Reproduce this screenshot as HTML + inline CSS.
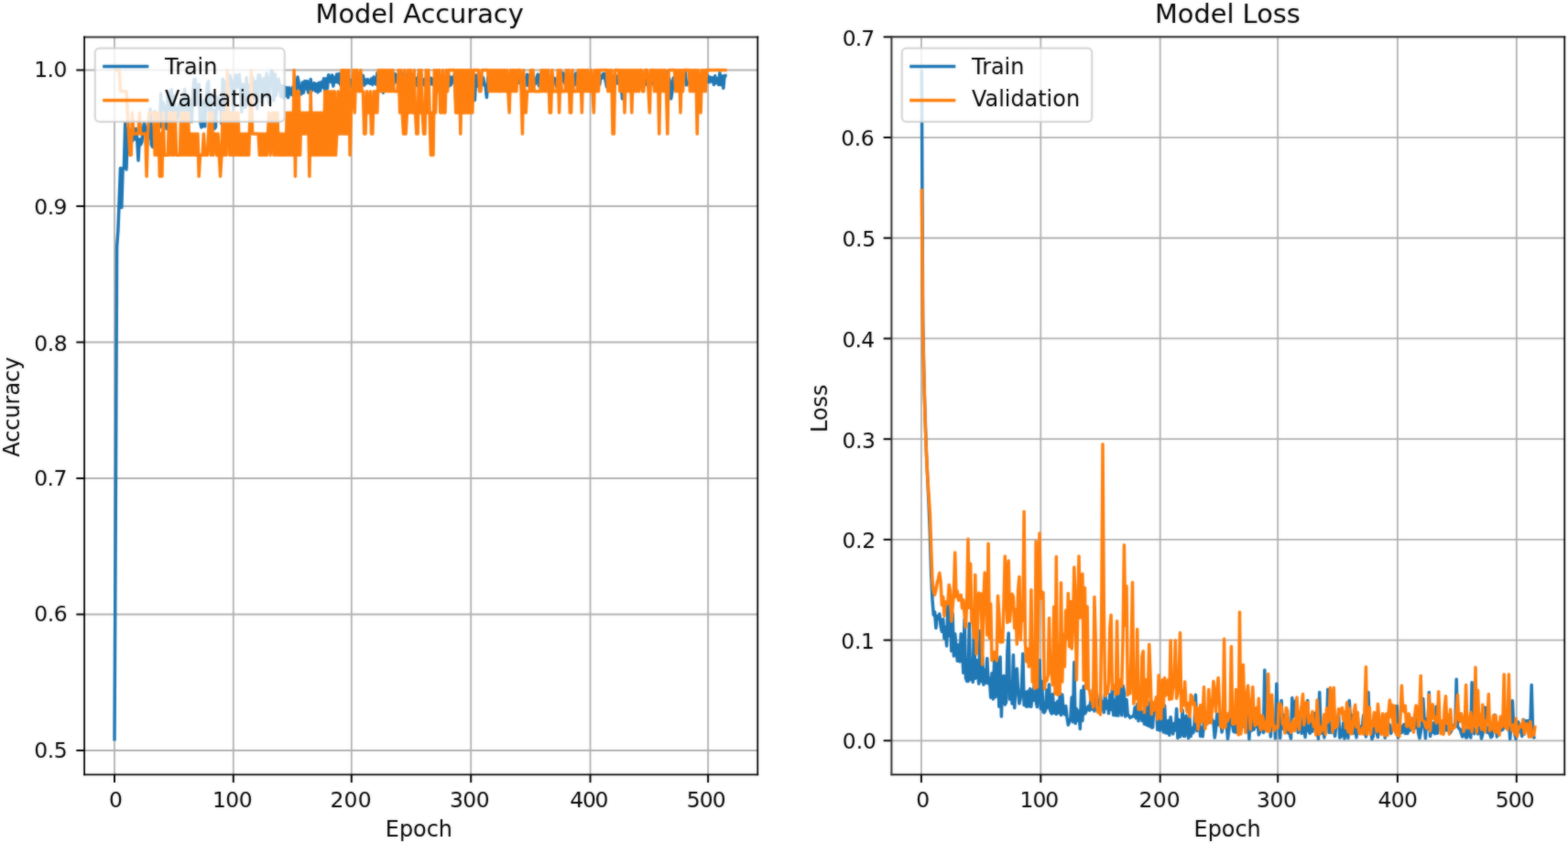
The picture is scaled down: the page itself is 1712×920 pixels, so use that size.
<!DOCTYPE html>
<html lang="en">
<head>
<meta charset="utf-8">
<title>Model Accuracy and Model Loss</title>
<style>
html,body{margin:0;padding:0;background:#ffffff;}
body{width:1712px;height:920px;overflow:hidden;font-family:"DejaVu Sans", "Liberation Sans", sans-serif;}
svg{display:block;}
svg text{font-family:"DejaVu Sans", "Liberation Sans", sans-serif;}
</style>
</head>
<body>
<svg width="1712" height="920" viewBox="0 0 1712 920">
<defs>
<filter id="soft" x="0" y="0" width="100%" height="100%" color-interpolation-filters="sRGB">
<feGaussianBlur in="SourceGraphic" stdDeviation="0.9" result="b"/>
<feComposite in="SourceGraphic" in2="b" operator="arithmetic" k1="0" k2="0.5" k3="0.5" k4="0"/>
</filter>
</defs>
<g filter="url(#soft)">
<rect x="0" y="0" width="1712" height="920" fill="#ffffff"/>
<g id="ax1">
<rect x="92.1" y="40.4" width="735.15" height="804.90" fill="#ffffff"/>
<g stroke="#b0b0b0" stroke-width="1.8" fill="none">
<line x1="125.00" y1="40.4" x2="125.00" y2="845.3"/>
<line x1="254.80" y1="40.4" x2="254.80" y2="845.3"/>
<line x1="383.80" y1="40.4" x2="383.80" y2="845.3"/>
<line x1="514.20" y1="40.4" x2="514.20" y2="845.3"/>
<line x1="644.50" y1="40.4" x2="644.50" y2="845.3"/>
<line x1="773.10" y1="40.4" x2="773.10" y2="845.3"/>
<line x1="92.1" y1="819.00" x2="827.25" y2="819.00"/>
<line x1="92.1" y1="670.50" x2="827.25" y2="670.50"/>
<line x1="92.1" y1="522.00" x2="827.25" y2="522.00"/>
<line x1="92.1" y1="373.50" x2="827.25" y2="373.50"/>
<line x1="92.1" y1="225.00" x2="827.25" y2="225.00"/>
<line x1="92.1" y1="76.50" x2="827.25" y2="76.50"/>
</g>
<clipPath id="clip1"><rect x="92.1" y="40.4" width="735.15" height="804.90"/></clipPath>
<g clip-path="url(#clip1)">
<polyline points="125.0,808.6 126.3,551.7 127.6,269.6 128.9,251.7 130.2,217.6 131.5,183.4 132.8,226.5 134.1,183.4 135.4,183.4 136.7,134.4 138.0,184.9 139.3,140.4 140.6,146.3 141.9,157.6 143.2,142.5 144.5,153.7 145.8,151.9 147.1,151.9 148.4,140.4 149.7,151.9 151.0,175.1 152.3,151.9 153.6,157.7 154.9,154.9 156.2,141.1 157.5,134.4 158.8,140.4 160.1,146.3 161.4,152.2 162.7,146.3 164.0,119.1 165.3,157.7 166.5,160.4 167.8,146.3 169.1,121.6 170.4,139.9 171.7,125.1 173.0,127.8 174.3,138.9 175.6,102.2 176.9,137.3 178.2,111.7 179.5,117.6 180.8,135.8 182.1,140.4 183.4,100.1 184.7,132.7 186.0,105.2 187.3,97.6 188.6,138.2 189.9,104.7 191.2,134.9 192.5,118.0 193.8,129.3 195.1,113.9 196.4,127.1 197.7,107.7 199.0,126.3 200.3,126.4 201.6,97.3 202.9,125.5 204.2,138.3 205.5,111.2 206.8,131.9 208.1,109.6 209.4,132.7 210.7,100.0 212.0,86.3 213.3,86.3 214.6,114.2 215.9,92.9 217.2,92.2 218.5,131.9 219.8,138.9 221.1,137.8 222.4,110.2 223.7,137.9 225.0,110.3 226.3,91.9 227.6,88.7 228.9,136.1 230.2,104.1 231.5,136.5 232.8,119.9 234.1,140.4 235.4,138.9 236.7,105.8 238.0,108.5 239.3,119.1 240.6,108.1 241.9,134.9 243.2,86.3 244.5,91.5 245.8,126.8 247.0,88.9 248.3,118.5 249.6,103.2 250.9,82.6 252.2,87.1 253.5,88.6 254.8,120.0 256.1,106.4 257.4,81.7 258.7,89.0 260.0,95.0 261.3,81.2 262.6,96.6 263.9,122.3 265.2,91.9 266.5,111.0 267.8,117.3 269.1,84.8 270.4,113.8 271.7,111.6 273.0,92.0 274.3,110.8 275.6,83.9 276.9,93.3 278.2,107.5 279.5,88.4 280.8,118.8 282.1,81.7 283.4,82.1 284.7,85.9 286.0,111.5 287.3,100.2 288.6,85.4 289.9,105.0 291.2,80.0 292.5,94.7 293.8,113.2 295.1,85.8 296.4,77.1 297.7,79.4 299.0,109.8 300.3,81.2 301.6,103.9 302.9,89.8 304.2,86.3 305.5,96.9 306.8,105.3 308.1,93.3 309.4,107.0 310.7,94.4 312.0,104.5 313.3,95.7 314.6,106.6 315.9,95.7 317.2,102.5 318.5,103.4 319.8,95.0 321.1,100.9 322.4,91.5 323.7,98.1 325.0,84.0 326.3,91.6 327.6,97.2 328.8,102.7 330.1,90.1 331.4,101.3 332.7,88.4 334.0,97.0 335.3,88.6 336.6,100.9 337.9,96.3 339.2,86.4 340.5,98.7 341.8,96.8 343.1,90.6 344.4,99.2 345.7,91.5 347.0,100.8 348.3,90.3 349.6,98.9 350.9,89.6 352.2,95.3 353.5,85.7 354.8,98.9 356.1,85.7 357.4,96.6 358.7,81.7 360.0,85.5 361.3,89.5 362.6,81.9 363.9,94.0 365.2,84.2 366.5,89.4 367.8,81.1 369.1,89.9 370.4,80.6 371.7,92.6 373.0,80.1 374.3,93.8 375.6,85.8 376.9,93.8 378.2,86.2 379.5,93.2 380.8,85.5 382.1,94.0 383.4,87.9 384.7,95.0 386.0,83.3 387.3,92.5 388.6,94.5 389.9,92.7 391.2,80.9 392.5,92.3 393.8,79.6 395.1,90.5 396.4,82.5 397.7,93.1 399.0,86.9 400.3,90.9 401.6,86.6 402.9,90.4 404.2,91.3 405.5,85.9 406.8,92.4 408.1,84.1 409.3,89.7 410.6,91.9 411.9,79.7 413.2,93.0 414.5,84.7 415.8,92.2 417.1,83.6 418.4,101.2 419.7,84.5 421.0,94.7 422.3,85.9 423.6,92.0 424.9,82.2 426.2,90.1 427.5,85.1 428.8,86.6 430.1,91.3 431.4,80.7 432.7,82.5 434.0,90.4 435.3,83.3 436.6,90.3 437.9,90.3 439.2,80.2 440.5,91.0 441.8,87.5 443.1,92.8 444.4,80.7 445.7,91.3 447.0,82.0 448.3,94.7 449.6,81.4 450.9,91.8 452.2,87.2 453.5,93.3 454.8,85.5 456.1,93.6 457.4,79.4 458.7,92.6 460.0,81.9 461.3,91.3 462.6,87.0 463.9,93.3 465.2,85.1 466.5,94.5 467.8,85.4 469.1,90.9 470.4,85.2 471.7,92.1 473.0,86.6 474.3,85.9 475.6,79.7 476.9,92.1 478.2,89.3 479.5,85.3 480.8,89.4 482.1,82.7 483.4,91.7 484.7,93.8 486.0,91.8 487.3,90.7 488.6,80.0 489.9,94.3 491.1,83.4 492.4,92.8 493.7,84.6 495.0,89.9 496.3,81.2 497.6,109.2 498.9,81.5 500.2,85.1 501.5,92.3 502.8,91.2 504.1,83.9 505.4,94.1 506.7,80.4 508.0,89.4 509.3,85.2 510.6,93.4 511.9,79.4 513.2,80.6 514.5,89.4 515.8,91.4 517.1,87.0 518.4,109.2 519.7,82.0 521.0,94.1 522.3,93.6 523.6,84.5 524.9,90.3 526.2,92.9 527.5,84.8 528.8,92.2 530.1,94.3 531.4,106.2 532.7,85.5 534.0,79.0 535.3,93.5 536.6,86.6 537.9,93.7 539.2,85.2 540.5,89.5 541.8,83.9 543.1,91.4 544.4,84.5 545.7,92.7 547.0,93.5 548.3,82.0 549.6,85.5 550.9,92.8 552.2,83.5 553.5,80.1 554.8,87.1 556.1,90.3 557.4,91.6 558.7,87.2 560.0,89.2 561.3,89.5 562.6,92.8 563.9,85.9 565.2,90.4 566.5,90.2 567.8,80.8 569.1,91.1 570.4,80.6 571.6,89.1 572.9,84.6 574.2,92.7 575.5,81.3 576.8,93.6 578.1,82.3 579.4,92.8 580.7,87.0 582.0,91.5 583.3,90.5 584.6,91.4 585.9,85.0 587.2,81.2 588.5,93.8 589.8,81.4 591.1,92.6 592.4,79.3 593.7,93.7 595.0,83.6 596.3,92.8 597.6,80.9 598.9,92.8 600.2,92.2 601.5,92.7 602.8,80.7 604.1,88.8 605.4,85.5 606.7,91.6 608.0,94.8 609.3,91.8 610.6,78.9 611.9,93.5 613.2,83.7 614.5,79.6 615.8,88.5 617.1,92.0 618.4,79.2 619.7,93.6 621.0,83.8 622.3,92.0 623.6,86.9 624.9,91.9 626.2,93.1 627.5,92.6 628.8,80.1 630.1,83.3 631.4,91.2 632.7,79.2 634.0,91.8 635.3,93.5 636.6,80.1 637.9,93.5 639.2,86.3 640.5,84.7 641.8,88.9 643.1,84.6 644.4,81.7 645.7,89.9 647.0,84.5 648.3,89.6 649.6,90.3 650.9,93.5 652.2,82.9 653.4,78.9 654.7,92.3 656.0,82.7 657.3,85.3 658.6,80.6 659.9,80.4 661.2,88.4 662.5,94.8 663.8,93.1 665.1,80.5 666.4,93.2 667.7,82.2 669.0,88.3 670.3,88.3 671.6,86.0 672.9,90.9 674.2,83.0 675.5,91.3 676.8,81.1 678.1,89.0 679.4,107.7 680.7,84.2 682.0,91.5 683.3,85.0 684.6,92.1 685.9,79.3 687.2,91.7 688.5,78.4 689.8,92.2 691.1,90.0 692.4,92.8 693.7,79.8 695.0,79.1 696.3,91.8 697.6,85.0 698.9,81.8 700.2,83.5 701.5,82.9 702.8,89.2 704.1,92.8 705.4,81.4 706.7,91.4 708.0,84.9 709.3,90.1 710.6,84.9 711.9,91.6 713.2,85.0 714.5,92.2 715.8,82.0 717.1,92.7 718.4,82.0 719.7,92.8 721.0,80.8 722.3,91.7 723.6,78.6 724.9,90.2 726.2,83.0 727.5,78.3 728.8,92.2 730.1,84.8 731.4,88.5 732.7,107.7 733.9,100.3 735.2,85.1 736.5,90.3 737.8,78.9 739.1,89.9 740.4,82.2 741.7,91.6 743.0,78.8 744.3,90.5 745.6,88.0 746.9,85.3 748.2,78.4 749.5,92.8 750.8,91.0 752.1,89.8 753.4,92.2 754.7,84.5 756.0,88.6 757.3,92.1 758.6,83.0 759.9,91.0 761.2,84.3 762.5,88.3 763.8,81.7 765.1,92.8 766.4,92.4 767.7,81.8 769.0,91.4 770.3,81.5 771.6,89.5 772.9,82.7 774.2,89.7 775.5,84.3 776.8,88.9 778.1,84.8 779.4,92.4 780.7,82.7 782.0,90.6 783.3,85.9 784.6,92.5 785.9,79.8 787.2,92.6 788.5,83.1 789.8,96.3 791.1,82.4 792.4,82.4 793.7,82.4" fill="none" stroke="#1f77b4" stroke-width="3.5" stroke-linejoin="round" stroke-linecap="butt"/>
<polyline points="125.0,76.5 126.3,76.5 127.6,76.5 128.9,76.5 130.2,76.5 131.5,99.7 132.8,99.7 134.1,99.7 135.4,99.7 136.7,99.7 138.0,99.7 139.3,122.9 140.6,146.1 141.9,169.3 143.2,169.3 144.5,122.9 145.8,146.1 147.1,146.1 148.4,146.1 149.7,146.1 151.0,146.1 152.3,122.9 153.6,146.1 154.9,146.1 156.2,146.1 157.5,146.1 158.8,146.1 160.1,192.5 161.4,146.1 162.7,122.9 164.0,122.9 165.3,122.9 166.5,122.9 167.8,122.9 169.1,169.3 170.4,122.9 171.7,169.3 173.0,122.9 174.3,192.5 175.6,146.1 176.9,192.5 178.2,122.9 179.5,169.3 180.8,169.3 182.1,169.3 183.4,169.3 184.7,122.9 186.0,169.3 187.3,122.9 188.6,169.3 189.9,169.3 191.2,122.9 192.5,169.3 193.8,169.3 195.1,169.3 196.4,169.3 197.7,122.9 199.0,169.3 200.3,122.9 201.6,169.3 202.9,122.9 204.2,169.3 205.5,122.9 206.8,169.3 208.1,146.1 209.4,169.3 210.7,146.1 212.0,169.3 213.3,146.1 214.6,169.3 215.9,146.1 217.2,192.5 218.5,169.3 219.8,169.3 221.1,169.3 222.4,146.1 223.7,169.3 225.0,169.3 226.3,169.3 227.6,146.1 228.9,122.9 230.2,169.3 231.5,122.9 232.8,169.3 234.1,146.1 235.4,146.1 236.7,169.3 238.0,146.1 239.3,169.3 240.6,192.5 241.9,169.3 243.2,122.9 244.5,169.3 245.8,122.9 247.0,169.3 248.3,76.5 249.6,122.9 250.9,169.3 252.2,122.9 253.5,169.3 254.8,122.9 256.1,169.3 257.4,122.9 258.7,169.3 260.0,122.9 261.3,169.3 262.6,146.1 263.9,169.3 265.2,146.1 266.5,169.3 267.8,146.1 269.1,169.3 270.4,146.1 271.7,169.3 273.0,122.9 274.3,76.5 275.6,146.1 276.9,146.1 278.2,146.1 279.5,146.1 280.8,146.1 282.1,146.1 283.4,169.3 284.7,146.1 286.0,169.3 287.3,146.1 288.6,169.3 289.9,146.1 291.2,169.3 292.5,146.1 293.8,122.9 295.1,169.3 296.4,146.1 297.7,122.9 299.0,169.3 300.3,122.9 301.6,169.3 302.9,122.9 304.2,169.3 305.5,146.1 306.8,169.3 308.1,146.1 309.4,169.3 310.7,146.1 312.0,169.3 313.3,122.9 314.6,169.3 315.9,122.9 317.2,169.3 318.5,122.9 319.8,169.3 321.1,76.5 322.4,192.5 323.7,99.7 325.0,169.3 326.3,99.7 327.6,169.3 328.8,122.9 330.1,146.1 331.4,122.9 332.7,146.1 334.0,122.9 335.3,146.1 336.6,122.9 337.9,192.5 339.2,99.7 340.5,169.3 341.8,122.9 343.1,169.3 344.4,122.9 345.7,169.3 347.0,122.9 348.3,169.3 349.6,122.9 350.9,169.3 352.2,122.9 353.5,169.3 354.8,99.7 356.1,169.3 357.4,99.7 358.7,169.3 360.0,99.7 361.3,169.3 362.6,99.7 363.9,169.3 365.2,99.7 366.5,169.3 367.8,146.1 369.1,99.7 370.4,146.1 371.7,146.1 373.0,76.5 374.3,146.1 375.6,76.5 376.9,146.1 378.2,76.5 379.5,146.1 380.8,76.5 382.1,169.3 383.4,122.9 384.7,99.7 386.0,76.5 387.3,122.9 388.6,76.5 389.9,76.5 391.2,99.7 392.5,99.7 393.8,76.5 395.1,99.7 396.4,99.7 397.7,146.1 399.0,146.1 400.3,99.7 401.6,122.9 402.9,122.9 404.2,99.7 405.5,146.1 406.8,146.1 408.1,99.7 409.3,122.9 410.6,99.7 411.9,122.9 413.2,76.5 414.5,99.7 415.8,76.5 417.1,99.7 418.4,76.5 419.7,99.7 421.0,76.5 422.3,99.7 423.6,76.5 424.9,99.7 426.2,76.5 427.5,99.7 428.8,76.5 430.1,99.7 431.4,99.7 432.7,99.7 434.0,99.7 435.3,76.5 436.6,122.9 437.9,76.5 439.2,122.9 440.5,146.1 441.8,76.5 443.1,146.1 444.4,122.9 445.7,76.5 447.0,122.9 448.3,76.5 449.6,122.9 450.9,122.9 452.2,76.5 453.5,122.9 454.8,146.1 456.1,146.1 457.4,76.5 458.7,122.9 460.0,76.5 461.3,122.9 462.6,146.1 463.9,146.1 465.2,76.5 466.5,122.9 467.8,76.5 469.1,122.9 470.4,169.3 471.7,122.9 473.0,169.3 474.3,76.5 475.6,122.9 476.9,76.5 478.2,99.7 479.5,76.5 480.8,122.9 482.1,122.9 483.4,76.5 484.7,122.9 486.0,122.9 487.3,76.5 488.6,99.7 489.9,76.5 491.1,76.5 492.4,76.5 493.7,76.5 495.0,76.5 496.3,76.5 497.6,122.9 498.9,76.5 500.2,122.9 501.5,76.5 502.8,146.1 504.1,76.5 505.4,122.9 506.7,76.5 508.0,122.9 509.3,76.5 510.6,122.9 511.9,76.5 513.2,122.9 514.5,76.5 515.8,122.9 517.1,76.5 518.4,76.5 519.7,76.5 521.0,76.5 522.3,76.5 523.6,99.7 524.9,99.7 526.2,76.5 527.5,76.5 528.8,76.5 530.1,76.5 531.4,76.5 532.7,76.5 534.0,99.7 535.3,76.5 536.6,99.7 537.9,76.5 539.2,99.7 540.5,76.5 541.8,99.7 543.1,76.5 544.4,99.7 545.7,76.5 547.0,99.7 548.3,76.5 549.6,99.7 550.9,76.5 552.2,99.7 553.5,76.5 554.8,99.7 556.1,122.9 557.4,76.5 558.7,99.7 560.0,76.5 561.3,99.7 562.6,76.5 563.9,99.7 565.2,76.5 566.5,76.5 567.8,76.5 569.1,99.7 570.4,146.1 571.6,76.5 572.9,99.7 574.2,122.9 575.5,99.7 576.8,99.7 578.1,99.7 579.4,76.5 580.7,99.7 582.0,76.5 583.3,99.7 584.6,99.7 585.9,99.7 587.2,99.7 588.5,99.7 589.8,99.7 591.1,76.5 592.4,99.7 593.7,76.5 595.0,99.7 596.3,76.5 597.6,99.7 598.9,76.5 600.2,122.9 601.5,122.9 602.8,76.5 604.1,99.7 605.4,99.7 606.7,99.7 608.0,99.7 609.3,76.5 610.6,122.9 611.9,76.5 613.2,99.7 614.5,99.7 615.8,99.7 617.1,99.7 618.4,76.5 619.7,99.7 621.0,76.5 622.3,122.9 623.6,122.9 624.9,76.5 626.2,99.7 627.5,99.7 628.8,99.7 630.1,99.7 631.4,76.5 632.7,99.7 634.0,76.5 635.3,122.9 636.6,76.5 637.9,99.7 639.2,76.5 640.5,99.7 641.8,76.5 643.1,99.7 644.4,99.7 645.7,76.5 647.0,99.7 648.3,122.9 649.6,76.5 650.9,99.7 652.2,76.5 653.4,99.7 654.7,76.5 656.0,76.5 657.3,76.5 658.6,76.5 659.9,76.5 661.2,76.5 662.5,76.5 663.8,99.7 665.1,76.5 666.4,99.7 667.7,76.5 669.0,146.1 670.3,146.1 671.6,76.5 672.9,76.5 674.2,76.5 675.5,76.5 676.8,99.7 678.1,76.5 679.4,99.7 680.7,76.5 682.0,122.9 683.3,76.5 684.6,99.7 685.9,76.5 687.2,99.7 688.5,76.5 689.8,122.9 691.1,76.5 692.4,99.7 693.7,76.5 695.0,99.7 696.3,76.5 697.6,99.7 698.9,76.5 700.2,76.5 701.5,99.7 702.8,99.7 704.1,76.5 705.4,76.5 706.7,76.5 708.0,99.7 709.3,122.9 710.6,76.5 711.9,76.5 713.2,76.5 714.5,99.7 715.8,76.5 717.1,99.7 718.4,76.5 719.7,146.1 721.0,76.5 722.3,99.7 723.6,76.5 724.9,99.7 726.2,76.5 727.5,99.7 728.8,146.1 730.1,76.5 731.4,76.5 732.7,76.5 733.9,76.5 735.2,76.5 736.5,76.5 737.8,99.7 739.1,76.5 740.4,99.7 741.7,76.5 743.0,122.9 744.3,76.5 745.6,99.7 746.9,76.5 748.2,76.5 749.5,76.5 750.8,76.5 752.1,76.5 753.4,99.7 754.7,76.5 756.0,99.7 757.3,76.5 758.6,99.7 759.9,76.5 761.2,146.1 762.5,76.5 763.8,99.7 765.1,122.9 766.4,76.5 767.7,99.7 769.0,76.5 770.3,99.7 771.6,76.5 772.9,76.5 774.2,76.5 775.5,76.5 776.8,76.5 778.1,76.5 779.4,76.5 780.7,76.5 782.0,76.5 783.3,76.5 784.6,76.5 785.9,76.5 787.2,76.5 788.5,76.5 789.8,76.5 791.1,76.5 792.4,76.5 793.7,76.5" fill="none" stroke="#ff7f0e" stroke-width="3.5" stroke-linejoin="round" stroke-linecap="butt"/>
</g>
<g stroke="#000000" stroke-width="2.0">
<line x1="125.00" y1="845.3" x2="125.00" y2="854.10"/>
<line x1="254.80" y1="845.3" x2="254.80" y2="854.10"/>
<line x1="383.80" y1="845.3" x2="383.80" y2="854.10"/>
<line x1="514.20" y1="845.3" x2="514.20" y2="854.10"/>
<line x1="644.50" y1="845.3" x2="644.50" y2="854.10"/>
<line x1="773.10" y1="845.3" x2="773.10" y2="854.10"/>
<line x1="83.30" y1="819.00" x2="92.1" y2="819.00"/>
<line x1="83.30" y1="670.50" x2="92.1" y2="670.50"/>
<line x1="83.30" y1="522.00" x2="92.1" y2="522.00"/>
<line x1="83.30" y1="373.50" x2="92.1" y2="373.50"/>
<line x1="83.30" y1="225.00" x2="92.1" y2="225.00"/>
<line x1="83.30" y1="76.50" x2="92.1" y2="76.50"/>
</g>
<line x1="92.10" y1="40.40" x2="827.25" y2="40.40" stroke="#303030" stroke-width="2.0" stroke-linecap="square"/>
<line x1="827.25" y1="40.40" x2="827.25" y2="845.30" stroke="#000000" stroke-width="1.8" stroke-linecap="square"/>
<line x1="92.10" y1="845.30" x2="827.25" y2="845.30" stroke="#000000" stroke-width="1.8" stroke-linecap="square"/>
<line x1="92.10" y1="40.40" x2="92.10" y2="845.30" stroke="#000000" stroke-width="1.8" stroke-linecap="square"/>
<g fill="#000000">
<text x="118.88" y="880.50" font-size="23.4">0</text>
<text x="232.06" y="880.50" font-size="23.4" letter-spacing="-0.59">100</text>
<text x="360.46" y="880.50" font-size="23.4" letter-spacing="0.26">200</text>
<text x="490.96" y="880.50" font-size="23.4" letter-spacing="-0.54">300</text>
<text x="622.36" y="880.50" font-size="23.4" letter-spacing="-1.29">400</text>
<text x="749.86" y="880.50" font-size="23.4" letter-spacing="-0.89">500</text>
<text x="37.25" y="826.55" font-size="23.4" letter-spacing="-0.42">0.5</text>
<text x="37.25" y="678.15" font-size="23.4" letter-spacing="-0.47">0.6</text>
<text x="37.15" y="530.10" font-size="23.4" letter-spacing="-0.44">0.7</text>
<text x="37.15" y="383.00" font-size="23.4" letter-spacing="-0.35">0.8</text>
<text x="37.25" y="234.10" font-size="23.4" letter-spacing="-0.50">0.9</text>
<text x="37.26" y="84.35" font-size="23.4" letter-spacing="-0.51">1.0</text>
<text x="420.80" y="913.20" font-size="23.9">Epoch</text>
<text transform="translate(20.7,444.2) rotate(-90)" text-anchor="middle" font-size="23.9">Accuracy</text>
<text x="344.61" y="24.70" font-size="28.8">Model Accuracy</text>
</g>
<rect x="103.75" y="52.6" width="207.0" height="80.30" rx="4.8" ry="4.8" fill="#ffffff" fill-opacity="0.8" stroke="#cccccc" stroke-opacity="0.8" stroke-width="2.2"/>
<line x1="112.20" y1="72.50" x2="162.30" y2="72.50" stroke="#1f77b4" stroke-width="3.5"/>
<line x1="112.20" y1="109.40" x2="162.30" y2="109.40" stroke="#ff7f0e" stroke-width="3.5"/>
<g fill="#000000">
<text x="180.05" y="81.10" font-size="23.9">Train</text>
<text x="180.05" y="116.20" font-size="23.9">Validation</text>
</g>
</g>
<g id="ax2">
<rect x="973.4" y="40.3" width="734.85" height="805.00" fill="#ffffff"/>
<g stroke="#b0b0b0" stroke-width="1.8" fill="none">
<line x1="1005.90" y1="40.3" x2="1005.90" y2="845.3"/>
<line x1="1136.30" y1="40.3" x2="1136.30" y2="845.3"/>
<line x1="1266.70" y1="40.3" x2="1266.70" y2="845.3"/>
<line x1="1395.20" y1="40.3" x2="1395.20" y2="845.3"/>
<line x1="1525.90" y1="40.3" x2="1525.90" y2="845.3"/>
<line x1="1655.85" y1="40.3" x2="1655.85" y2="845.3"/>
<line x1="973.4" y1="808.30" x2="1708.25" y2="808.30"/>
<line x1="973.4" y1="698.59" x2="1708.25" y2="698.59"/>
<line x1="973.4" y1="588.88" x2="1708.25" y2="588.88"/>
<line x1="973.4" y1="479.17" x2="1708.25" y2="479.17"/>
<line x1="973.4" y1="369.46" x2="1708.25" y2="369.46"/>
<line x1="973.4" y1="259.75" x2="1708.25" y2="259.75"/>
<line x1="973.4" y1="150.04" x2="1708.25" y2="150.04"/>
<line x1="973.4" y1="40.33" x2="1708.25" y2="40.33"/>
</g>
<clipPath id="clip2"><rect x="973.4" y="40.3" width="734.85" height="805.00"/></clipPath>
<g clip-path="url(#clip2)">
<polyline points="1006.3,76.5 1007.6,347.5 1008.9,413.3 1010.2,457.2 1011.5,495.6 1012.8,523.1 1014.1,550.5 1015.4,583.4 1016.7,627.3 1018.0,654.7 1019.3,671.2 1020.6,667.9 1021.9,685.4 1023.2,672.3 1024.5,674.6 1025.8,670.0 1027.1,683.2 1028.4,689.3 1029.7,675.7 1031.0,696.8 1032.3,684.4 1033.6,705.0 1034.9,660.1 1036.2,694.1 1037.5,667.4 1038.8,710.5 1040.1,669.3 1041.4,716.0 1042.7,691.7 1044.0,705.3 1045.3,721.3 1046.6,703.7 1047.9,721.9 1049.2,691.8 1050.5,707.7 1051.8,734.3 1053.1,675.7 1054.4,739.7 1055.7,743.5 1057.0,743.6 1058.3,680.4 1059.6,741.7 1060.9,720.5 1062.2,744.4 1063.5,682.9 1064.8,740.5 1066.1,720.4 1067.4,730.5 1068.7,746.2 1070.0,688.6 1071.3,743.7 1072.6,716.2 1073.9,747.3 1075.2,731.2 1076.5,745.2 1077.8,718.4 1079.1,746.0 1080.4,740.2 1081.7,761.2 1083.0,734.8 1084.3,763.0 1085.6,719.9 1086.9,760.8 1088.2,716.5 1089.5,730.3 1090.8,771.1 1092.1,716.9 1093.4,782.0 1094.7,738.8 1096.0,737.7 1097.3,769.0 1098.6,766.2 1099.9,710.8 1101.2,690.9 1102.5,763.1 1103.8,748.8 1105.1,768.0 1106.4,714.7 1107.7,772.6 1109.0,749.9 1110.3,729.7 1111.6,753.3 1112.9,767.8 1114.2,762.2 1115.5,750.3 1116.8,713.4 1118.1,769.5 1119.4,755.2 1120.7,771.2 1122.0,754.4 1123.3,770.8 1124.6,751.8 1125.9,771.2 1127.2,752.9 1128.5,764.2 1129.8,730.5 1131.1,764.9 1132.4,771.6 1133.7,745.1 1135.0,720.5 1136.3,773.6 1137.7,743.6 1139.0,777.1 1140.3,777.6 1141.6,774.8 1142.9,752.9 1144.2,772.5 1145.5,746.9 1146.8,775.8 1148.1,778.9 1149.4,757.6 1150.7,778.1 1152.0,767.4 1153.3,779.4 1154.6,765.3 1155.9,778.1 1157.2,759.1 1158.5,780.4 1159.8,757.9 1161.1,776.9 1162.4,779.8 1163.7,770.5 1165.0,783.0 1166.3,791.2 1167.6,788.0 1168.9,783.7 1170.2,761.1 1171.5,787.8 1172.8,722.7 1174.1,789.5 1175.4,773.6 1176.7,786.5 1178.0,776.0 1179.3,795.5 1180.6,753.7 1181.9,786.5 1183.2,749.1 1184.5,778.9 1185.8,776.8 1187.1,772.9 1188.4,770.7 1189.7,775.3 1191.0,762.5 1192.3,773.9 1193.6,751.2 1194.9,776.0 1196.2,758.8 1197.5,774.3 1198.8,764.6 1200.1,776.5 1201.4,757.4 1202.7,774.0 1204.0,766.1 1205.3,777.5 1206.6,756.4 1207.9,773.1 1209.2,765.2 1210.5,778.6 1211.8,757.9 1213.1,774.6 1214.4,751.7 1215.7,780.4 1217.0,764.3 1218.3,780.8 1219.6,749.8 1220.9,781.1 1222.2,769.2 1223.5,748.1 1224.8,780.8 1226.1,748.3 1227.4,755.6 1228.7,782.0 1230.0,763.4 1231.3,780.5 1232.6,781.0 1233.9,783.3 1235.2,782.5 1236.5,781.8 1237.8,781.8 1239.1,771.9 1240.4,783.7 1241.7,768.4 1243.0,786.8 1244.3,764.0 1245.6,777.3 1246.9,786.4 1248.2,776.7 1249.5,790.3 1250.8,758.1 1252.1,791.5 1253.4,771.3 1254.7,792.6 1256.0,765.5 1257.3,793.9 1258.6,793.9 1259.9,769.6 1261.2,772.1 1262.5,763.1 1263.8,796.4 1265.1,795.7 1266.4,797.1 1267.7,766.6 1269.0,790.5 1270.3,799.0 1271.6,769.9 1272.9,800.0 1274.2,800.0 1275.5,786.5 1276.8,802.3 1278.1,782.5 1279.4,793.6 1280.7,801.0 1282.0,789.5 1283.3,797.0 1284.6,773.5 1285.9,805.4 1287.2,785.4 1288.5,804.0 1289.8,796.8 1291.1,775.0 1292.4,803.4 1293.7,803.4 1295.0,781.1 1296.3,787.1 1297.6,805.6 1298.9,783.6 1300.2,803.5 1301.5,794.6 1302.8,799.8 1304.1,790.6 1305.4,758.3 1306.7,797.8 1308.0,788.7 1309.3,784.2 1310.6,803.4 1311.9,794.2 1313.2,803.8 1314.5,788.1 1315.8,791.9 1317.1,781.2 1318.4,785.5 1319.7,783.8 1321.0,788.3 1322.3,782.1 1323.6,788.2 1324.9,786.9 1326.2,805.1 1327.5,796.6 1328.8,779.4 1330.1,790.9 1331.4,777.7 1332.7,781.7 1334.0,799.0 1335.3,793.9 1336.6,787.1 1337.9,791.5 1339.2,789.6 1340.5,806.3 1341.8,797.0 1343.1,776.5 1344.4,776.2 1345.7,791.8 1347.0,798.7 1348.3,792.8 1349.6,799.4 1350.9,787.6 1352.2,784.6 1353.5,777.7 1354.8,792.8 1356.1,780.4 1357.4,791.2 1358.7,793.1 1360.0,780.3 1361.3,798.4 1362.6,779.9 1363.9,806.4 1365.2,785.7 1366.5,797.3 1367.8,780.8 1369.1,796.3 1370.4,784.6 1371.7,793.2 1373.0,784.6 1374.3,801.9 1375.6,798.8 1376.9,793.6 1378.2,781.3 1379.5,799.6 1380.8,731.2 1382.1,796.9 1383.4,780.0 1384.7,790.4 1386.0,775.9 1387.3,804.0 1388.6,778.0 1389.9,792.2 1391.2,785.2 1392.5,805.8 1393.8,746.2 1395.1,787.3 1396.4,789.5 1397.8,805.5 1399.1,764.4 1400.4,794.9 1401.7,780.5 1403.0,789.9 1404.3,798.9 1405.6,781.3 1406.9,800.2 1408.2,800.1 1409.5,806.0 1410.8,761.6 1412.1,782.0 1413.4,781.3 1414.7,764.4 1416.0,782.0 1417.3,799.4 1418.6,790.8 1419.9,781.8 1421.2,800.4 1422.5,793.1 1423.8,794.7 1425.1,804.4 1426.4,780.4 1427.7,764.4 1429.0,798.4 1430.3,800.3 1431.6,789.0 1432.9,798.3 1434.2,787.4 1435.5,778.3 1436.8,799.5 1438.1,792.9 1439.4,806.3 1440.7,755.4 1442.0,793.6 1443.3,800.2 1444.6,793.3 1445.9,804.9 1447.2,793.6 1448.5,793.2 1449.8,752.3 1451.1,799.4 1452.4,793.3 1453.7,799.6 1455.0,779.8 1456.3,794.2 1457.6,803.4 1458.9,788.9 1460.2,786.7 1461.5,779.1 1462.8,805.1 1464.1,804.1 1465.4,800.5 1466.7,789.0 1468.0,806.1 1469.3,792.8 1470.6,783.3 1471.9,805.4 1473.2,764.4 1474.5,785.9 1475.8,780.5 1477.1,800.5 1478.4,795.6 1479.7,793.1 1481.0,804.7 1482.3,782.7 1483.6,799.5 1484.9,793.9 1486.2,793.2 1487.5,791.6 1488.8,780.5 1490.1,786.7 1491.4,804.0 1492.7,784.4 1494.0,755.6 1495.3,794.0 1496.6,793.3 1497.9,806.4 1499.2,804.0 1500.5,779.8 1501.8,789.1 1503.1,800.0 1504.4,804.5 1505.7,792.1 1507.0,786.3 1508.3,800.3 1509.6,779.8 1510.9,783.0 1512.2,805.2 1513.5,781.2 1514.8,793.1 1516.1,790.0 1517.4,791.5 1518.7,800.5 1520.0,795.8 1521.3,795.3 1522.6,781.7 1523.9,790.1 1525.2,770.5 1526.5,805.1 1527.8,792.5 1529.1,795.8 1530.4,799.6 1531.7,792.5 1533.0,790.5 1534.3,800.5 1535.6,790.5 1536.9,800.6 1538.2,791.5 1539.5,797.2 1540.8,794.0 1542.1,784.2 1543.4,788.3 1544.7,794.7 1546.0,792.9 1547.3,782.3 1548.6,800.2 1549.9,805.6 1551.2,798.4 1552.5,791.7 1553.8,762.6 1555.1,786.8 1556.4,805.7 1557.7,784.4 1559.0,795.3 1560.3,755.4 1561.6,803.5 1562.9,791.3 1564.2,799.2 1565.5,789.0 1566.8,800.7 1568.1,771.0 1569.4,800.2 1570.7,788.0 1572.0,787.6 1573.3,788.8 1574.6,788.4 1575.9,800.4 1577.2,795.3 1578.5,790.0 1579.8,797.1 1581.1,787.7 1582.4,798.5 1583.7,799.4 1585.0,796.5 1586.3,791.8 1587.6,791.3 1588.9,792.2 1590.2,741.2 1591.5,793.0 1592.8,794.8 1594.1,795.8 1595.4,800.2 1596.7,804.0 1598.0,790.9 1599.3,798.9 1600.6,805.0 1601.9,804.7 1603.2,789.7 1604.5,796.6 1605.8,804.9 1607.1,744.8 1608.4,796.1 1609.7,800.8 1611.0,796.8 1612.3,795.4 1613.6,800.9 1614.9,794.7 1616.2,792.9 1617.5,806.0 1618.8,801.0 1620.1,794.5 1621.4,772.1 1622.7,794.9 1624.0,799.4 1625.3,793.9 1626.6,801.0 1627.9,804.7 1629.2,803.7 1630.5,789.6 1631.8,780.3 1633.1,787.8 1634.4,804.0 1635.7,795.7 1637.0,795.4 1638.3,787.3 1639.6,796.9 1640.9,796.0 1642.2,791.3 1643.5,793.6 1644.8,788.3 1646.1,787.9 1647.4,785.3 1648.7,806.4 1650.0,787.8 1651.3,764.7 1652.6,791.6 1653.9,800.8 1655.2,806.5 1656.5,787.9 1657.9,788.1 1659.2,798.5 1660.5,795.1 1661.8,803.6 1663.1,785.3 1664.4,801.1 1665.7,786.5 1667.0,795.5 1668.3,786.5 1669.6,803.9 1670.9,790.1 1672.2,747.6 1673.5,794.5 1674.8,805.0 1676.1,803.9" fill="none" stroke="#1f77b4" stroke-width="3.5" stroke-linejoin="round" stroke-linecap="butt"/>
<polyline points="1006.3,206.0 1007.6,358.5 1008.9,418.8 1010.2,462.7 1011.5,495.6 1012.8,520.9 1014.1,541.7 1015.4,560.4 1016.7,599.9 1018.0,635.0 1019.3,645.9 1020.6,649.2 1021.9,643.7 1023.2,636.1 1024.5,631.7 1025.8,625.3 1027.1,635.0 1028.4,660.3 1029.7,651.6 1031.0,672.2 1032.3,656.8 1033.6,659.4 1034.9,658.3 1036.2,638.2 1037.5,644.8 1038.8,678.0 1040.1,662.1 1041.4,647.6 1042.7,603.1 1044.0,651.2 1045.3,645.2 1046.6,655.0 1047.9,650.2 1049.2,649.4 1050.5,663.7 1051.8,654.7 1053.1,670.7 1054.4,684.6 1055.7,656.5 1057.0,588.3 1058.3,663.3 1059.6,615.2 1060.9,678.6 1062.2,680.7 1063.5,695.9 1064.8,627.3 1066.1,713.6 1067.4,684.5 1068.7,647.0 1070.0,656.4 1071.3,648.0 1072.6,725.1 1073.9,654.3 1075.2,625.1 1076.5,650.3 1077.8,693.0 1079.1,593.3 1080.4,696.7 1081.7,659.1 1083.0,720.8 1084.3,718.5 1085.6,711.7 1086.9,716.9 1088.2,721.0 1089.5,650.3 1090.8,669.4 1092.1,700.8 1093.4,700.8 1094.7,700.8 1096.0,658.0 1097.3,607.0 1098.6,645.2 1099.9,679.5 1101.2,611.9 1102.5,678.2 1103.8,660.5 1105.1,648.3 1106.4,651.4 1107.7,685.4 1109.0,665.2 1110.3,703.1 1111.6,644.1 1112.9,629.5 1114.2,698.3 1115.5,665.0 1116.8,677.5 1118.1,558.2 1119.4,700.9 1120.7,721.9 1122.0,707.9 1123.3,727.6 1124.6,726.8 1125.9,643.7 1127.2,744.3 1128.5,737.2 1129.8,751.5 1131.1,591.1 1132.4,750.1 1133.7,664.6 1135.0,582.1 1136.3,653.0 1137.7,645.9 1139.0,646.9 1140.3,751.8 1141.6,740.3 1142.9,742.9 1144.2,737.3 1145.5,674.5 1146.8,734.7 1148.1,734.4 1149.4,747.5 1150.7,662.3 1152.0,757.3 1153.3,607.5 1154.6,758.3 1155.9,704.4 1157.2,757.4 1158.5,636.1 1159.8,744.2 1161.1,692.5 1162.4,727.6 1163.7,666.2 1165.0,696.7 1166.3,647.6 1167.6,705.8 1168.9,656.6 1170.2,708.0 1171.5,682.8 1172.8,619.1 1174.1,655.1 1175.4,742.1 1176.7,670.3 1178.0,606.9 1179.3,674.1 1180.6,656.3 1181.9,626.2 1183.2,742.5 1184.5,641.5 1185.8,751.2 1187.1,662.0 1188.4,751.7 1189.7,754.1 1191.0,763.9 1192.3,763.0 1193.6,771.8 1194.9,651.4 1196.2,698.5 1197.5,770.3 1198.8,777.4 1200.1,772.8 1201.4,779.9 1202.7,671.6 1204.0,484.8 1205.3,666.5 1206.6,759.6 1207.9,756.7 1209.2,756.4 1210.5,744.3 1211.8,685.4 1213.1,671.2 1214.4,752.3 1215.7,749.4 1217.0,747.8 1218.3,757.7 1219.6,677.7 1220.9,757.0 1222.2,746.2 1223.5,741.8 1224.8,749.0 1226.1,693.9 1227.4,594.8 1228.7,682.7 1230.0,639.8 1231.3,758.4 1232.6,749.5 1233.9,756.7 1235.2,706.8 1236.5,635.5 1237.8,768.0 1239.1,759.5 1240.4,762.5 1241.7,686.7 1243.0,774.1 1244.3,774.3 1245.6,774.1 1246.9,716.1 1248.2,710.7 1249.5,777.7 1250.8,741.7 1252.1,769.4 1253.4,758.8 1254.7,703.3 1256.0,735.5 1257.3,779.6 1258.6,766.5 1259.9,775.2 1261.2,767.6 1262.5,760.7 1263.8,784.9 1265.1,736.9 1266.4,779.4 1267.7,784.5 1269.0,741.9 1270.3,771.3 1271.6,739.7 1272.9,759.0 1274.2,749.5 1275.5,742.0 1276.8,763.5 1278.1,699.0 1279.4,762.7 1280.7,750.0 1282.0,749.4 1283.3,699.0 1284.6,762.2 1285.9,756.2 1287.2,739.5 1288.5,690.5 1289.8,776.5 1291.1,753.7 1292.4,769.4 1293.7,744.0 1295.0,770.3 1296.3,777.1 1297.6,767.4 1298.9,782.1 1300.2,758.3 1301.5,760.4 1302.8,768.8 1304.1,766.8 1305.4,787.5 1306.7,772.1 1308.0,796.1 1309.3,785.8 1310.6,769.6 1311.9,788.0 1313.2,781.5 1314.5,749.7 1315.8,795.3 1317.1,780.7 1318.4,790.0 1319.7,752.6 1321.0,775.6 1322.3,788.8 1323.6,769.0 1324.9,743.4 1326.2,756.0 1327.5,776.7 1328.8,755.9 1330.1,739.7 1331.4,764.4 1332.7,792.8 1334.0,785.4 1335.3,794.7 1336.6,697.3 1337.9,793.7 1339.2,778.6 1340.5,786.5 1341.8,780.8 1343.1,781.8 1344.4,705.4 1345.7,790.1 1347.0,790.4 1348.3,789.6 1349.6,752.6 1350.9,779.2 1352.2,801.9 1353.5,667.9 1354.8,801.1 1356.1,790.0 1357.4,725.5 1358.7,777.2 1360.0,799.5 1361.3,758.3 1362.6,748.3 1363.9,773.1 1365.2,796.1 1366.5,772.8 1367.8,749.7 1369.1,783.2 1370.4,792.1 1371.7,772.4 1373.0,790.2 1374.3,762.3 1375.6,793.8 1376.9,796.7 1378.2,780.8 1379.5,786.2 1380.8,795.8 1382.1,788.0 1383.4,797.9 1384.7,735.5 1386.0,798.3 1387.3,789.7 1388.6,758.3 1389.9,788.5 1391.2,797.4 1392.5,794.2 1393.8,792.5 1395.1,794.3 1396.4,767.9 1397.8,768.3 1399.1,771.5 1400.4,790.3 1401.7,788.8 1403.0,800.0 1404.3,772.5 1405.6,775.4 1406.9,796.6 1408.2,791.8 1409.5,799.4 1410.8,788.9 1412.1,786.0 1413.4,797.6 1414.7,791.6 1416.0,761.1 1417.3,788.4 1418.6,796.5 1419.9,778.6 1421.2,769.8 1422.5,757.6 1423.8,791.1 1425.1,779.0 1426.4,766.3 1427.7,766.8 1429.0,789.1 1430.3,780.7 1431.6,786.7 1432.9,776.6 1434.2,792.8 1435.5,788.1 1436.8,802.1 1438.1,764.0 1439.4,787.2 1440.7,801.4 1442.0,794.0 1443.3,797.5 1444.6,790.0 1445.9,779.7 1447.2,801.2 1448.5,773.0 1449.8,788.2 1451.1,784.5 1452.4,750.5 1453.7,770.9 1455.0,798.9 1456.3,750.5 1457.6,794.4 1458.9,790.0 1460.2,792.6 1461.5,773.7 1462.8,774.1 1464.1,778.3 1465.4,772.5 1466.7,785.7 1468.0,776.9 1469.3,794.6 1470.6,766.8 1471.9,798.6 1473.2,772.9 1474.5,800.6 1475.8,800.8 1477.1,792.6 1478.4,776.5 1479.7,769.2 1481.0,793.4 1482.3,777.4 1483.6,798.6 1484.9,801.0 1486.2,798.2 1487.5,794.6 1488.8,801.3 1490.1,769.7 1491.4,727.7 1492.7,801.6 1494.0,779.5 1495.3,772.1 1496.6,801.2 1497.9,787.5 1499.2,792.2 1500.5,777.5 1501.8,788.8 1503.1,798.3 1504.4,768.3 1505.7,783.7 1507.0,799.2 1508.3,801.4 1509.6,778.7 1510.9,790.4 1512.2,802.6 1513.5,778.9 1514.8,802.6 1516.1,777.9 1517.4,764.0 1518.7,782.5 1520.0,769.3 1521.3,797.2 1522.6,770.2 1523.9,799.7 1525.2,802.0 1526.5,791.3 1527.8,803.6 1529.1,779.3 1530.4,748.3 1531.7,773.9 1533.0,776.8 1534.3,770.3 1535.6,792.4 1536.9,792.9 1538.2,778.9 1539.5,783.6 1540.8,794.7 1542.1,785.0 1543.4,799.2 1544.7,780.2 1546.0,769.9 1547.3,771.5 1548.6,792.6 1549.9,777.4 1551.2,737.6 1552.5,785.9 1553.8,786.5 1555.1,787.5 1556.4,792.5 1557.7,795.0 1559.0,786.7 1560.3,758.3 1561.6,797.7 1562.9,779.4 1564.2,768.8 1565.5,783.9 1566.8,782.6 1568.1,789.1 1569.4,787.0 1570.7,754.8 1572.0,787.0 1573.3,800.5 1574.6,786.7 1575.9,801.5 1577.2,773.1 1578.5,759.7 1579.8,789.4 1581.1,780.0 1582.4,801.2 1583.7,774.3 1585.0,796.2 1586.3,795.1 1587.6,794.4 1588.9,792.0 1590.2,776.5 1591.5,758.3 1592.8,784.8 1594.1,787.5 1595.4,778.8 1596.7,784.3 1598.0,798.5 1599.3,789.0 1600.6,747.6 1601.9,791.7 1603.2,794.9 1604.5,786.8 1605.8,777.5 1607.1,798.7 1608.4,783.3 1609.7,791.8 1611.0,728.3 1612.3,799.4 1613.6,753.4 1614.9,791.0 1616.2,780.2 1617.5,796.1 1618.8,769.0 1620.1,793.4 1621.4,798.6 1622.7,786.4 1624.0,788.5 1625.3,757.6 1626.6,797.4 1627.9,793.7 1629.2,795.5 1630.5,781.1 1631.8,798.9 1633.1,780.8 1634.4,799.2 1635.7,789.2 1637.0,802.3 1638.3,782.0 1639.6,793.5 1640.9,786.6 1642.2,735.9 1643.5,793.2 1644.8,794.3 1646.1,796.3 1647.4,735.9 1648.7,790.0 1650.0,792.0 1651.3,797.5 1652.6,791.1 1653.9,801.0 1655.2,784.2 1656.5,803.8 1657.9,795.7 1659.2,793.3 1660.5,790.7 1661.8,793.4 1663.1,786.0 1664.4,800.8 1665.7,793.5 1667.0,789.9 1668.3,795.3 1669.6,803.9 1670.9,787.6 1672.2,803.9 1673.5,802.0 1674.8,801.7 1676.1,791.8" fill="none" stroke="#ff7f0e" stroke-width="3.5" stroke-linejoin="round" stroke-linecap="butt"/>
</g>
<g stroke="#000000" stroke-width="2.0">
<line x1="1005.90" y1="845.3" x2="1005.90" y2="854.10"/>
<line x1="1136.30" y1="845.3" x2="1136.30" y2="854.10"/>
<line x1="1266.70" y1="845.3" x2="1266.70" y2="854.10"/>
<line x1="1395.20" y1="845.3" x2="1395.20" y2="854.10"/>
<line x1="1525.90" y1="845.3" x2="1525.90" y2="854.10"/>
<line x1="1655.85" y1="845.3" x2="1655.85" y2="854.10"/>
<line x1="964.60" y1="808.30" x2="973.4" y2="808.30"/>
<line x1="964.60" y1="698.59" x2="973.4" y2="698.59"/>
<line x1="964.60" y1="588.88" x2="973.4" y2="588.88"/>
<line x1="964.60" y1="479.17" x2="973.4" y2="479.17"/>
<line x1="964.60" y1="369.46" x2="973.4" y2="369.46"/>
<line x1="964.60" y1="259.75" x2="973.4" y2="259.75"/>
<line x1="964.60" y1="150.04" x2="973.4" y2="150.04"/>
<line x1="964.60" y1="40.33" x2="973.4" y2="40.33"/>
</g>
<line x1="973.40" y1="40.30" x2="1708.25" y2="40.30" stroke="#303030" stroke-width="2.0" stroke-linecap="square"/>
<line x1="1708.25" y1="40.30" x2="1708.25" y2="845.30" stroke="#000000" stroke-width="1.8" stroke-linecap="square"/>
<line x1="973.40" y1="845.30" x2="1708.25" y2="845.30" stroke="#000000" stroke-width="1.8" stroke-linecap="square"/>
<line x1="973.40" y1="40.30" x2="973.40" y2="845.30" stroke="#303030" stroke-width="2.0" stroke-linecap="square"/>
<g fill="#000000">
<text x="1000.18" y="880.50" font-size="23.4">0</text>
<text x="1113.46" y="880.50" font-size="23.4" letter-spacing="-0.94">100</text>
<text x="1243.56" y="880.50" font-size="23.4" letter-spacing="0.26">200</text>
<text x="1372.06" y="880.50" font-size="23.4" letter-spacing="-0.39">300</text>
<text x="1504.46" y="880.50" font-size="23.4" letter-spacing="-0.59">400</text>
<text x="1632.66" y="880.50" font-size="23.4" letter-spacing="-0.89">500</text>
<text x="919.86" y="817.30" font-size="23.4" letter-spacing="-0.11">0.0</text>
<text x="918.30" y="708.09" font-size="23.4" letter-spacing="-0.25">0.1</text>
<text x="919.50" y="598.48" font-size="23.4" letter-spacing="-0.33">0.2</text>
<text x="919.50" y="488.82" font-size="23.4" letter-spacing="-0.41">0.3</text>
<text x="919.50" y="378.86" font-size="23.4" letter-spacing="-0.76">0.4</text>
<text x="919.50" y="269.40" font-size="23.4" letter-spacing="-0.30">0.5</text>
<text x="918.30" y="159.09" font-size="23.4" letter-spacing="-0.45">0.6</text>
<text x="919.86" y="50.03" font-size="23.4" letter-spacing="-0.94">0.7</text>
<text x="1303.55" y="913.20" font-size="23.9">Epoch</text>
<text transform="translate(902.8,445.7) rotate(-90)" text-anchor="middle" font-size="23.9">Loss</text>
<text x="1261.01" y="24.70" font-size="28.8">Model Loss</text>
</g>
<rect x="984.75" y="52.6" width="207.5" height="80.30" rx="4.8" ry="4.8" fill="#ffffff" fill-opacity="0.8" stroke="#cccccc" stroke-opacity="0.8" stroke-width="2.2"/>
<line x1="993.20" y1="72.50" x2="1043.30" y2="72.50" stroke="#1f77b4" stroke-width="3.5"/>
<line x1="993.20" y1="109.40" x2="1043.30" y2="109.40" stroke="#ff7f0e" stroke-width="3.5"/>
<g fill="#000000">
<text x="1061.05" y="81.10" font-size="23.9">Train</text>
<text x="1061.05" y="116.20" font-size="23.9">Validation</text>
</g>
</g>
</g>
</svg>
</body>
</html>
